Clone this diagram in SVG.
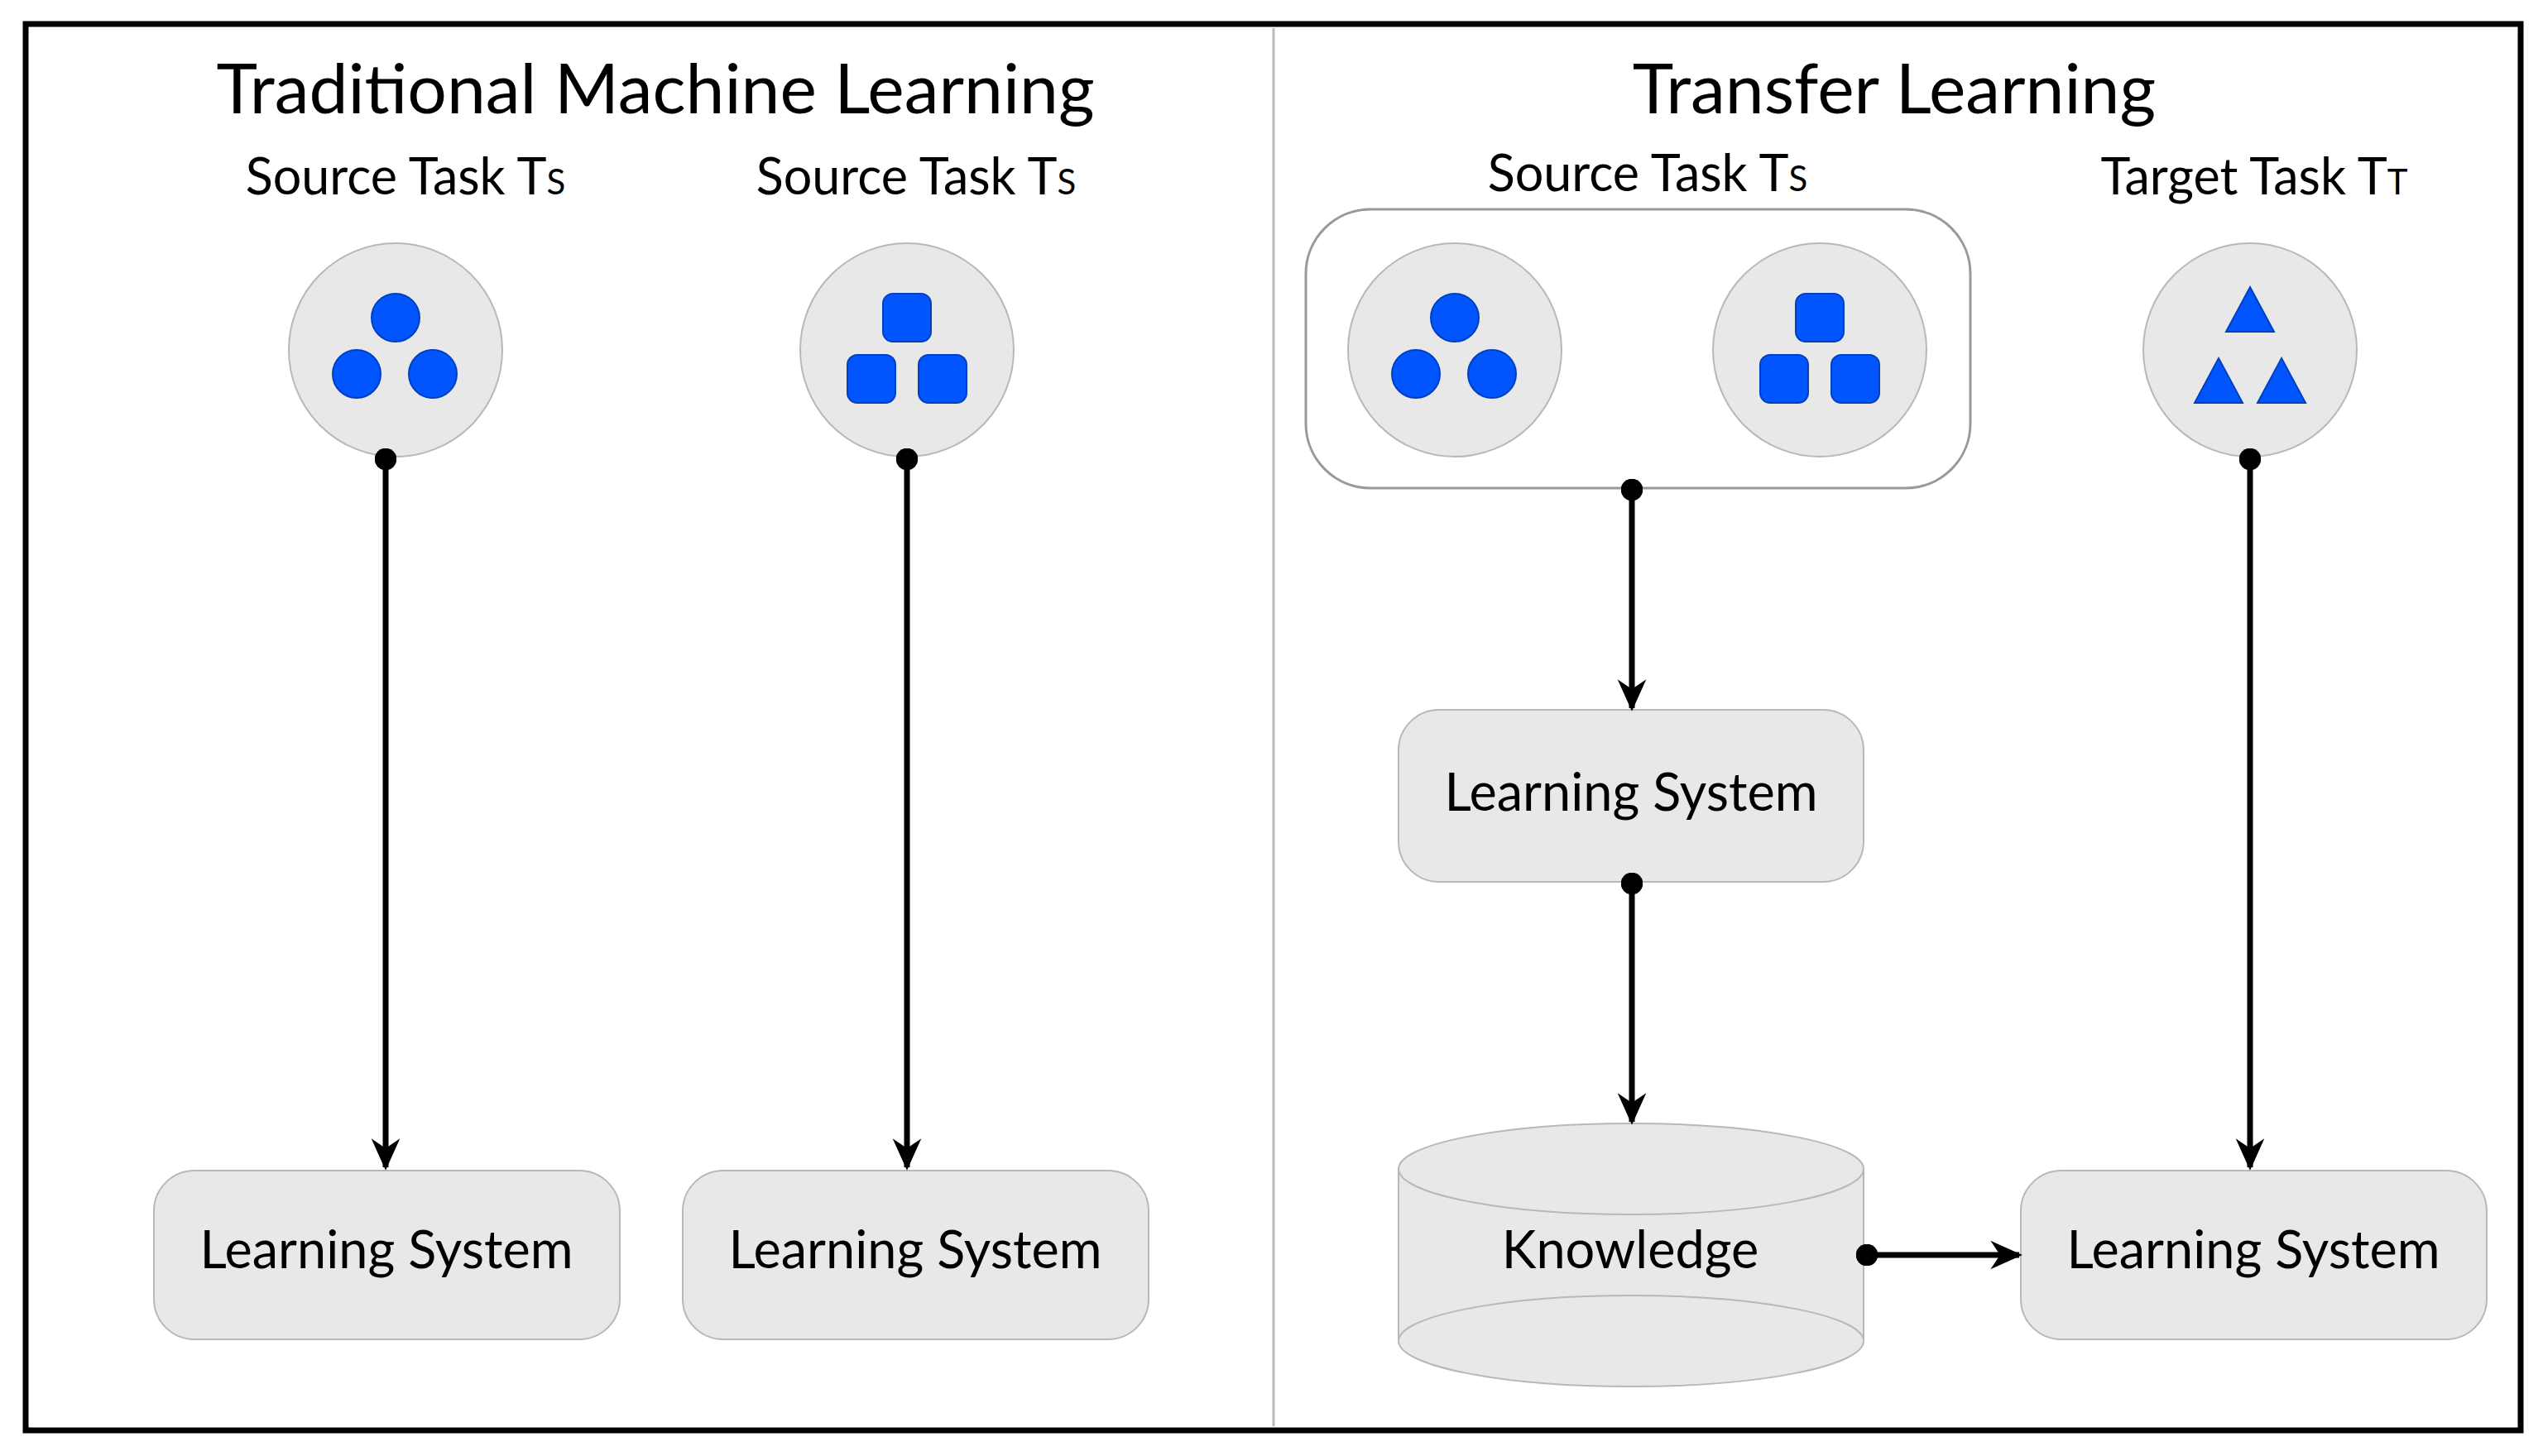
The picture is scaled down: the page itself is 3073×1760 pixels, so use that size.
<svg xmlns="http://www.w3.org/2000/svg" width="3073" height="1760" viewBox="0 0 3073 1760">
<style>
text{font-family:Lato,"Liberation Sans",sans-serif;fill:#000;text-anchor:middle}
.t{font-size:84px}.s{font-size:61px}.l{font-size:63px}
.box{fill:#e8e8e8;stroke:#b8b8b8;stroke-width:2}
.b{fill:#0055ff;stroke:#0040c0;stroke-width:2}
.c{stroke:#000;stroke-width:7;fill:none}
</style>
<defs>
<marker id="a" viewBox="0 0 20 20" refX="18" refY="10" markerWidth="5.5" markerHeight="5.5" orient="auto" markerUnits="strokeWidth"><path d="M0,1 L20,10 L0,19 L6,10 Z" fill="#000"/></marker>
<marker id="d" viewBox="0 0 10 10" refX="5" refY="5" markerWidth="3.8" markerHeight="3.8" markerUnits="strokeWidth"><circle cx="5" cy="5" r="5" fill="#000"/></marker>
<g id="dots"><circle cx="0" cy="-39" r="29" class="b"/><circle cx="-47" cy="29" r="29" class="b"/><circle cx="45" cy="29" r="29" class="b"/></g>
<g id="sq"><rect x="-29" y="-68" width="58" height="58" rx="12" class="b"/><rect x="-72" y="6" width="58" height="58" rx="12" class="b"/><rect x="14" y="6" width="58" height="58" rx="12" class="b"/></g>
</defs>
<rect x="31" y="29" width="3015" height="1700" fill="#fff" stroke="#000" stroke-width="7"/>
<line x1="1539" y1="34" x2="1539" y2="1724" stroke="#bbb" stroke-width="3"/>
<text class="t" x="792" y="137">Traditional Machine Learning</text>
<text class="t" x="2289" y="137">Transfer Learning</text>
<text class="s" x="490" y="235">Source Task T<tspan font-size="42">S</tspan></text>
<text class="s" x="1107" y="235">Source Task T<tspan font-size="42">S</tspan></text>
<text class="s" x="1991" y="231">Source Task T<tspan font-size="42">S</tspan></text>
<text class="s" x="2724" y="235">Target Task T<tspan font-size="42">T</tspan></text>
<g id="src1"><circle cx="478" cy="423" r="129" class="box"/><use href="#dots" x="478" y="423"/></g>
<g id="src2"><circle cx="1096" cy="423" r="129" class="box"/><use href="#sq" x="1096" y="423"/></g>
<g id="group"><rect x="1578" y="253" width="803" height="337" rx="78" fill="#fff" stroke="#999" stroke-width="3"/>
<circle cx="1758" cy="423" r="129" class="box"/><use href="#dots" x="1758" y="423"/>
<circle cx="2199" cy="423" r="129" class="box"/><use href="#sq" x="2199" y="423"/></g>
<g id="tgt"><circle cx="2719" cy="423" r="129" class="box"/>
<path class="b" d="M2719,347 L2748,401 L2690,401 Z M2681,433 L2710,487 L2652,487 Z M2757,433 L2786,487 L2728,487 Z"/></g>
<g id="ls1"><rect x="186" y="1415" width="563" height="204" rx="49" class="box"/><text class="l" x="467" y="1533">Learning System</text></g>
<g id="ls2"><rect x="825" y="1415" width="563" height="204" rx="49" class="box"/><text class="l" x="1106" y="1533">Learning System</text></g>
<g id="ls3"><rect x="1690" y="858" width="562" height="208" rx="49" class="box"/><text class="l" x="1971" y="980">Learning System</text></g>
<g id="ls4"><rect x="2442" y="1415" width="563" height="204" rx="49" class="box"/><text class="l" x="2723" y="1533">Learning System</text></g>
<g id="kn"><path class="box" d="M1690,1413 L1690,1621 A281,55 0 0 0 2252,1621 L2252,1413"/>
<ellipse cx="1971" cy="1413" rx="281" ry="55" class="box"/>
<path d="M1690,1621 A281,55 0 0 1 2252,1621" fill="none" stroke="#b8b8b8" stroke-width="2"/>
<text class="l" x="1970" y="1533">Knowledge</text></g>
<g id="connectors">
<path class="c" d="M466,555 L466,1411" marker-start="url(#d)" marker-end="url(#a)"/>
<path class="c" d="M1096,555 L1096,1411" marker-start="url(#d)" marker-end="url(#a)"/>
<path class="c" d="M1972,592 L1972,856" marker-start="url(#d)" marker-end="url(#a)"/>
<path class="c" d="M1972,1068 L1972,1356" marker-start="url(#d)" marker-end="url(#a)"/>
<path class="c" d="M2719,555 L2719,1411" marker-start="url(#d)" marker-end="url(#a)"/>
<path class="c" d="M2256,1517 L2440,1517" stroke-width="10" marker-start="url(#d)" marker-end="url(#a)"/>
</g>
</svg>
